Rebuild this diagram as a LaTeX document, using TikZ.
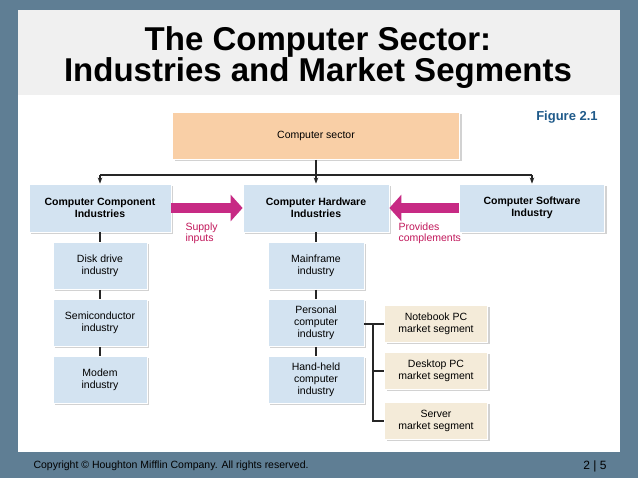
\documentclass[tikz,border=0pt]{standalone}
\usepackage{fontspec}
\setmainfont{Liberation Sans}
\usetikzlibrary{shadows,arrows.meta}
\definecolor{bgb}{HTML}{5F7E94}
\definecolor{boxb}{HTML}{D3E3F1}
\definecolor{boxo}{HTML}{F9CFA6}
\definecolor{boxe}{HTML}{F4EBD9}
\definecolor{mag}{HTML}{C2185B}
\definecolor{figc}{HTML}{1F5A8A}
\tikzset{
 bx/.style={draw=white,line width=0.8pt,fill=boxb,drop shadow={opacity=0.35,shadow xshift=2pt,shadow yshift=-2pt},align=center,font=\fontsize{10.5}{12}\selectfont,inner sep=0pt},
 lnk/.style={line width=1.2pt,black!85},
 pin/.style={magenta!80!black,line width=10pt,-{Triangle[length=12pt,width=26pt]}},
}
\begin{document}
\begin{tikzpicture}[x=1pt,y=-1pt]
\useasboundingbox (0,0) rectangle (638,478);
\fill[bgb] (0,0) rectangle (638,478);
\fill[white] (18,10) rectangle (620,452);
\fill[gray!12] (18,10) rectangle (620,95);
\node (t) at (318,58) [align=center,font=\bfseries\fontsize{33}{31}\selectfont] {The Computer Sector:\\Industries and Market Segments};
\node (fig) at (567,117) [font=\bfseries\fontsize{13}{14}\selectfont,text=figc] {Figure 2.1};
\node (cp) at (30,466) [anchor=west,font=\fontsize{10.5}{11}\selectfont] {Copyright © Houghton Mifflin Company. All rights reserved.};
\node (pg) at (610,466) [anchor=east,font=\fontsize{12}{13}\selectfont] {2 | 5};

\node[bx,fill=boxo,minimum width=287pt,minimum height=47pt] (cs) at (316,136) {Computer sector};
\node[bx,minimum width=142pt,minimum height=48pt,font=\bfseries\fontsize{10.5}{12}\selectfont] (cc) at (100,208) {Computer Component\\Industries};
\node[bx,minimum width=146pt,minimum height=48pt,font=\bfseries\fontsize{10.5}{12}\selectfont] (hw) at (316,208) {Computer Hardware\\Industries};
\node[bx,minimum width=145pt,minimum height=48pt,font=\bfseries\fontsize{10.5}{12}\selectfont] (sw) at (532,208) {Computer Software\\Industry};

\foreach \n/\y/\t in {dd/266/{Disk drive\\industry},sc/323/{Semiconductor\\industry},mo/380/{Modem\\industry}}
  \node[bx,minimum width=94pt,minimum height=47pt] (\n) at (100,\y) {\t};
\foreach \n/\y/\t in {mf/266/{Mainframe\\industry},pc/323/{Personal\\computer\\industry},hh/380/{Hand-held\\computer\\industry}}
  \node[bx,minimum width=96pt,minimum height=47pt] (\n) at (316,\y) {\t};
\foreach \n/\y/\t in {nb/324/{Notebook PC\\market segment},dp/371/{Desktop PC\\market segment},sv/421/{Server\\market segment}}
  \node[bx,fill=boxe,minimum width=103pt,minimum height=37pt] (\n) at (436,\y) {\t};

\coordinate (j) at (316,175);
\draw[lnk] (cs.south) -- (j);
\draw[lnk] (cc.north |- j) -- (sw.north |- j);
\foreach \n in {cc,hw,sw} \draw[lnk,-{Stealth[length=6pt]}] (\n.north |- j) -- (\n.north);
\draw[lnk] (cc.south) -- (dd.north) (dd.south) -- (sc.north) (sc.south) -- (mo.north);
\draw[lnk] (hw.south) -- (mf.north) (mf.south) -- (pc.north) (pc.south) -- (hh.north);
\coordinate (b1) at (373,324);
\coordinate (b2) at (373,421);
\draw[lnk] (pc.east |- b1) -- (nb.west) (b1) -- (b2) -- (sv.west);
\draw[lnk] (b1 |- dp.west) -- (dp.west);

\draw[pin] (cc.east) -- (hw.west);
\draw[pin] (sw.west) -- (hw.east);
\node (si) at (182,233) [anchor=west,align=left,text=mag,font=\fontsize{10.5}{11}\selectfont] {Supply\\inputs};
\node (pr) at (395,233) [anchor=west,align=left,text=mag,font=\fontsize{10.5}{11}\selectfont] {Provides\\complements};
\end{tikzpicture}
\end{document}
